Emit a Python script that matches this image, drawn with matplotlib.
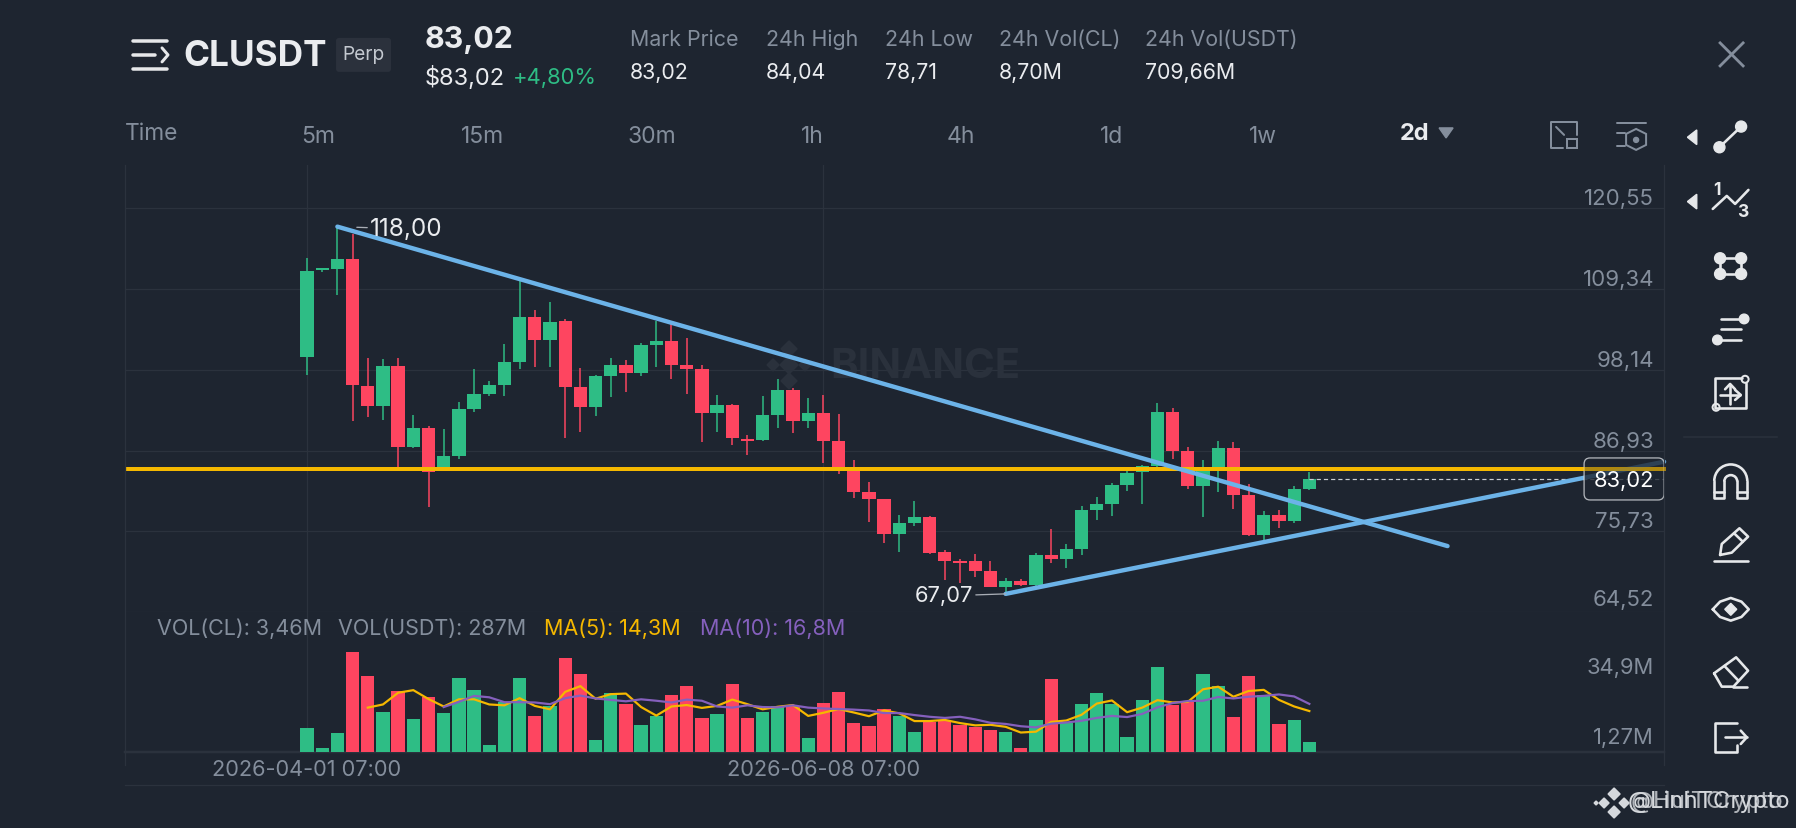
import matplotlib
matplotlib.use("Agg")
import matplotlib.pyplot as plt
from matplotlib.patches import Rectangle, Circle, FancyBboxPatch, Polygon, Arc

plt.rcParams['font.family'] = ['Inter', 'DejaVu Sans']

# Candles (index = one 2d candle)
opens = [99.88, 111.95, 112.09, 113.48, 95.95, 93.18, 98.73, 87.45, 90.08, 84.26,
         86.25, 92.67, 94.80, 96.05, 99.24, 105.52, 102.29, 104.88, 95.77, 93.04,
         97.25, 98.82, 97.67, 101.64, 102.15, 98.88, 98.32, 92.13, 93.24, 88.57,
         88.39, 91.85, 95.37, 91.11, 92.22, 88.29, 84.32, 81.17, 80.16, 75.39,
         76.92, 77.75, 72.81, 71.60, 71.60, 70.22, 68.09, 68.83, 68.32, 72.48,
         71.86, 73.26, 78.70, 79.53, 82.14, 83.91, 84.74, 92.33, 86.88, 82.05,
         84.28, 87.30, 80.74, 75.30, 77.95, 77.21, 81.67]
closes = [111.90, 112.18, 113.48, 96.00, 93.18, 98.73, 87.49, 90.08, 84.03, 86.20,
          92.67, 94.80, 96.00, 99.24, 105.52, 102.29, 104.83, 95.77, 93.04, 97.25,
          98.82, 97.67, 101.59, 102.15, 98.82, 98.32, 92.13, 93.24, 88.62, 88.34,
          91.85, 95.37, 91.11, 92.22, 88.29, 84.55, 81.17, 80.16, 75.39, 76.92,
          77.75, 72.76, 71.60, 71.33, 70.22, 68.09, 68.83, 68.32, 72.48, 71.93,
          73.26, 78.65, 79.53, 82.14, 83.81, 84.74, 92.33, 86.88, 82.09, 84.28,
          87.30, 80.74, 75.30, 77.95, 77.21, 81.63, 83.02]
highs = [113.62, 112.18, 118.00, 116.99, 99.84, 99.61, 99.75, 91.84, 90.36, 89.90,
         93.69, 98.22, 96.56, 101.73, 110.61, 106.45, 107.51, 105.25, 98.36, 97.43,
         99.84, 99.51, 101.83, 104.97, 104.46, 102.62, 98.79, 94.63, 93.38, 89.12,
         94.58, 96.89, 95.64, 94.30, 94.72, 91.99, 85.66, 82.61, 80.16, 77.98,
         80.02, 77.89, 73.22, 71.97, 72.62, 71.60, 69.34, 69.20, 72.76, 76.09,
         73.95, 79.26, 80.56, 82.42, 84.14, 84.98, 93.53, 92.84, 87.40, 85.58,
         88.33, 88.19, 82.33, 78.51, 78.70, 82.00, 84.04]
lows = [97.39, 111.72, 108.53, 91.10, 91.65, 91.19, 84.26, 87.31, 79.08, 84.20,
        85.74, 92.30, 94.57, 94.57, 98.31, 98.55, 98.59, 88.70, 89.57, 91.79,
        94.43, 95.08, 97.34, 98.50, 96.88, 94.77, 88.20, 89.49, 87.78, 86.35,
        88.25, 90.14, 89.40, 90.14, 85.29, 83.76, 80.43, 77.01, 74.10, 72.90,
        76.46, 72.67, 68.97, 68.60, 69.38, 68.04, 67.07, 68.23, 68.23, 71.37,
        70.70, 72.46, 77.26, 77.91, 81.35, 79.58, 84.65, 85.81, 81.63, 77.77,
        81.16, 78.79, 75.12, 74.28, 76.19, 76.84, 81.44]

# Volume in millions
volumes = [8.4, 1.28, 6.54, 34.9, 26.6, 13.9, 21.4, 11.4, 19.3, 13.7,
           26.0, 21.7, 2.45, 17.6, 26.0, 12.5, 15.9, 33.0, 27.4, 4.08,
           20.5, 16.9, 9.45, 12.7, 20.0, 22.9, 11.7, 13.4, 23.6, 12.0,
           14.0, 16.2, 16.1, 4.8, 17.2, 20.9, 10.15, 9.2, 15.05, 12.4,
           7.0, 10.4, 11.0, 9.6, 8.6, 7.7, 6.9, 1.4, 11.1, 25.6,
           10.0, 16.9, 20.7, 16.6, 5.25, 18.2, 29.8, 16.5, 17.7, 27.1,
           23.1, 12.1, 26.5, 19.8, 9.7, 11.2, 3.46]
ma5 = [15.5, 16.6, 20.7, 21.6, 18.5, 15.9, 18.4, 18.4, 16.6, 16.3,
       18.8, 16.1, 14.9, 21.0, 23.0, 18.6, 20.2, 20.4, 15.7, 12.7,
       15.9, 16.4, 15.4, 16.1, 18.3, 16.7, 14.9, 15.8, 16.4, 12.6,
       13.7, 15.0, 13.8, 12.5, 14.5, 13.5, 10.8, 10.8, 11.2, 10.1,
       9.3, 9.5, 8.8, 6.8, 7.1, 10.5, 11.0, 13.0, 16.9, 18.0,
       13.9, 15.5, 18.1, 17.3, 17.5, 21.9, 22.8, 19.3, 21.3, 21.7,
       18.2, 15.9, 14.3]
ma10 = [15.7, 17.5, 19.6, 19.1, 17.4, 17.4, 17.3, 16.7, 18.8, 19.7,
        18.7, 18.2, 17.7, 18.4, 17.9, 17.3, 18.3, 17.9, 15.9, 15.5,
        16.3, 15.7, 15.6, 16.3, 15.5, 15.2, 15.0, 14.8, 14.5, 13.6,
        13.6, 12.9, 12.3, 11.9, 12.3, 11.4, 10.2, 9.8, 9.0, 8.6,
        9.9, 10.3, 10.9, 11.9, 12.6, 12.2, 13.3, 15.6, 17.1, 17.8,
        17.9, 19.2, 18.7, 19.3, 19.6, 20.1, 19.4, 16.8]

price_ticks = [120.55, 109.34, 98.14, 86.93, 75.73, 64.52]
price_labels = ['120,55', '109,34', '98,14', '86,93', '75,73', '64,52']
tick_lifts = [9, 9, 9, 9, 10, 12]
date_idx = [0, 34]
date_labels = ['2026-04-01 07:00', '2026-06-08 07:00']
last_price = 83.02
support_level = 84.35
# drawn trendlines (candle index, price)
down_x, down_y = [2, 75.1], [118.0, 73.7]
up_x, up_y = [46, 89.36], [67.07, 85.4]

header_names = ['Mark Price', '24h High', '24h Low', '24h Vol(CL)', '24h Vol(USDT)']
header_values = ['83,02', '84,04', '78,71', '8,70M', '709,66M']
intervals = ['5m', '15m', '30m', '1h', '4h', '1d', '1w']

BG = '#1e2530'
GRID = '#2b323d'
GREEN = '#2ebd85'
RED = '#fe4560'
YELLOW = '#f5b800'
BLUE = '#6cb3e8'
PURPLE = '#8560bd'
GREY = '#848e9c'
WHITE = '#eaecef'
ICON = '#e6e8ea'

W, H = 1796, 828
# the extra 0.1 stops 8.28*100 being truncated to 827 rows
fig = plt.figure(figsize=((W + 0.1) / 100, (H + 0.1) / 100), dpi=100, facecolor=BG)


def px_axes(x0, y0, x1, y1):
    return fig.add_axes([x0 / W, 1 - y1 / H, (x1 - x0) / W, (y1 - y0) / H], facecolor='none')


def px(v):
    return v * 0.72


xlim = (-11.985, 89.36)
ax = px_axes(125, 165, 1664, 612.3)
ax_vol = px_axes(125, 612.3, 1664, 752)
ui = fig.add_axes([0, 0, 1, 1], facecolor='none', zorder=5)
ui.set_xlim(0, W)
ui.set_ylim(H, 0)
ui.axis('off')

for a in (ax, ax_vol):
    a.set_xlim(*xlim)
    a.set_xticks([])
    a.set_yticks([])
    for s in a.spines.values():
        s.set_visible(False)
    for i in date_idx:
        a.axvline(i, color=GRID, lw=px(1.3), zorder=1)

# price panel
ax.set_ylim(64.52, 126.56)
for v, lab, lift in zip(price_ticks, price_labels, tick_lifts):
    ax.axhline(v, color=GRID, lw=px(1.3), zorder=1)
    ax.annotate(lab, (1, v), xycoords=('axes fraction', 'data'), xytext=(-10, lift),
                textcoords='offset pixels', ha='right', va='center', color=GREY,
                fontsize=16, zorder=3, annotation_clip=False)

ax.text(830, 367, 'BINANCE', transform=ui.transData, color='#2a313c', fontsize=30,
        fontweight='bold', va='center', ha='left', zorder=1.5)
for cx, cy, r in [(789, 365, 9), (773, 365, 6), (805, 365, 6), (789, 349, 8), (789, 381, 8)]:
    ax.add_patch(Polygon([(cx - r, cy), (cx, cy - r), (cx + r, cy), (cx, cy + r)],
                         transform=ui.transData, color='#2a313c', zorder=1.5))

for i in range(len(opens)):
    col = GREEN if closes[i] >= opens[i] else RED
    ax.vlines(i, lows[i], highs[i], color=col, lw=px(1.5), zorder=2)
    bottom = min(opens[i], closes[i])
    ax.bar(i, max(abs(closes[i] - opens[i]), 0.25), 0.875, bottom=bottom, color=col, lw=0, zorder=2.2)

ax.axhline(support_level, color=YELLOW, lw=px(4), zorder=4)
ax.plot(down_x, down_y, color=BLUE, lw=px(4.4), zorder=4.2, solid_capstyle='round')
ax.plot(up_x, up_y, color=BLUE, lw=px(4.4), zorder=4.2, solid_capstyle='round', clip_on=False)
ax.plot([66, xlim[1]], [last_price, last_price], color='#c8ccd2', lw=px(1.2),
        dashes=(3.5, 2.5), zorder=3.5)

# high / low markers
ax.annotate('118,00', xy=(2, 118.0), xytext=(370, 229), textcoords=ui.transData,
            color=WHITE, fontsize=17.5, va='center', ha='left', zorder=6,
            arrowprops=dict(arrowstyle='-', color='#a8adb5', lw=px(1.3), shrinkA=0, shrinkB=14))
ax.annotate('67,07', xy=(46, 67.07), xytext=(973, 596), textcoords=ui.transData,
            color=WHITE, fontsize=15.8, va='center', ha='right', zorder=6,
            arrowprops=dict(arrowstyle='-', color='#a8adb5', lw=px(1.3), shrinkA=0, shrinkB=0))

# volume panel
ax_vol.set_ylim(0, 48.8)
ax_vol.axhline(0, color=GRID, lw=px(2.5), zorder=1, clip_on=False)
bar_cols = [GREEN if c >= o else RED for o, c in zip(opens, closes)]
ax_vol.bar(range(len(volumes)), volumes, 0.875, color=bar_cols, lw=0, zorder=2)
ax_vol.plot(range(4, 4 + len(ma5)), ma5, color=YELLOW, lw=px(2.2), zorder=3)
ax_vol.plot(range(9, 9 + len(ma10)), ma10, color=PURPLE, lw=px(2.2), zorder=3.2)

# frame lines
ui.plot([125, 125], [165, 765], color=GRID, lw=px(1.3))
ui.plot([1664, 1664], [165, 765], color=GRID, lw=px(1.3))
ui.plot([125, 1664], [785, 785], color=GRID, lw=px(1.3))
ui.plot([1684, 1777], [436.7, 436.7], color=GRID, lw=px(1.5))


def label(x, y, s, color=WHITE, size=15.4, ha='left', weight='normal', **kw):
    ui.text(x, y + 2, s, color=color, fontsize=size, ha=ha, va='center', fontweight=weight, **kw)


# volume legend + axis
label(157, 627, 'VOL(CL): 3,46M', GREY, 15.5)
label(338, 627, 'VOL(USDT): 287M', GREY, 15.5)
label(544, 627, 'MA(5): 14,3M', YELLOW, 15.5)
label(700, 627, 'MA(10): 16,8M', PURPLE, 15.5)
label(1654, 666, '34,9M', GREY, 15.8, ha='right')
label(1654, 736, '1,27M', GREY, 15.8, ha='right')

for i, lab in zip(date_idx, date_labels):
    x = 307 + 15.186 * i
    label(x, 768, lab, GREY, 15.7, ha='center')

# price tag
ui.add_patch(FancyBboxPatch((1588, 462), 72, 34, boxstyle='round,pad=4,rounding_size=6',
                            fc=BG, ec='#d5d8dc', lw=px(1.3), alpha=0.8))
ui.plot([1585, 1664], [469.3, 469.3], color=YELLOW, lw=px(4), alpha=0.6)
label(1654, 479, '83,02', '#ffffff', 15.8, ha='right')

# header
for y in (40.7, 69.3):
    ui.plot([133, 167], [y, y], color=ICON, lw=px(3.5), solid_capstyle='round')
ui.plot([133, 155], [55, 55], color=ICON, lw=px(3.5), solid_capstyle='round')
ui.plot([162, 168, 162], [48, 55, 62], color=ICON, lw=px(3), solid_capstyle='round')
label(183, 54.5, 'CLUSDT', WHITE, 25.3, weight='bold')
ui.add_patch(FancyBboxPatch((338, 40), 51, 30, boxstyle='round,pad=2,rounding_size=3', fc='#2b313c', ec='none'))
label(363.5, 53, 'Perp', '#c4c9d0', 13.8, ha='center')
label(425, 38, '83,02', WHITE, 21.8, weight='bold')
label(425, 76, '$83,02', WHITE, 17)
label(513, 76, '+4,80%', GREEN, 15.8)

for x, n, v in zip([630, 766, 885, 999, 1145], header_names, header_values):
    label(x, 38, n, GREY)
    label(x, 71, v, WHITE)

label(125, 132, 'Time', GREY, 16.4)
for x, s in zip([318, 482, 652, 812, 961, 1112, 1263], intervals):
    label(x, 135, s, GREY, 16.5, ha='center')
label(1414, 132, '2d', WHITE, 17, weight='bold', ha='center')
ui.add_patch(Polygon([(1439, 128), (1453, 128), (1446, 138)], color=GREY))

for y0, y1, x0, x1 in [(43, 66, 1720, 1743), (66, 43, 1720, 1743)]:
    ui.plot([x0, x1], [y0, y1], color=GREY, lw=px(2.8))

# top tool icons
g = dict(color=GREY, lw=px(2), solid_capstyle='round')
ui.plot([1563, 1551, 1551, 1577, 1577], [148, 148, 122, 122, 135], **g)
ui.add_patch(Rectangle((1567, 139), 10, 9, fc='none', ec=GREY, lw=px(2)))
ui.plot([1556, 1564], [127, 135], **g)
ui.plot([1617, 1646], [123, 123], **g)
ui.plot([1617, 1625], [133, 133], **g)
ui.plot([1617, 1625], [146, 146], **g)
ui.add_patch(Polygon([(1636, 129), (1646, 134), (1646, 145), (1636, 150), (1626, 145), (1626, 134)],
                     fc='none', ec=GREY, lw=px(2)))
ui.add_patch(Circle((1636, 140), 2.5, color=GREY))


def z7(x, y):
    return 1380 + x / 3, 100 + y / 3


def z8(x, y):
    return 1380 + x / 3, 420 + y / 3


def line(points, conv, lw=2.6):
    xs, ys = zip(*[conv(*p) for p in points])
    ui.plot(xs, ys, color=ICON, lw=px(lw), solid_capstyle='round', solid_joinstyle='round')


def dot(x, y, conv, r=5.5):
    ui.add_patch(Circle(conv(x, y), r, color=ICON))


# side toolbar
for y in (112, 305):
    ui.add_patch(Polygon([z7(950, y - 22), z7(950, y + 22), z7(922, y)], color=ICON))
line([(1018, 142), (1083, 80)], z7)
dot(1018, 142, z7)
dot(1083, 80, z7)
line([(998, 327), (1040, 288), (1065, 312), (1105, 270)], z7)
label(*z7(1010, 266), '1', ICON, 12.5, ha='center', weight='bold')
label(*z7(1088, 332), '3', ICON, 12.5, ha='center', weight='bold')
line([(1020, 475), (1083, 475), (1083, 522), (1020, 522), (1020, 475)], z7)
for x, y in [(1020, 475), (1083, 475), (1020, 522), (1083, 522)]:
    dot(x, y, z7)
line([(1022, 657), (1092, 657)], z7)
line([(1022, 688), (1082, 688)], z7)
line([(1012, 720), (1082, 720)], z7)
dot(1092, 657, z7, 4.8)
dot(1012, 720, z7, 4.8)
line([(1085, 835), (1005, 835), (1005, 925), (1098, 925), (1098, 850)], z7)
ui.add_patch(Circle(z7(1095, 838), 3.5, fc=BG, ec=ICON, lw=px(2)))
ui.add_patch(Circle(z7(1008, 922), 3.5, fc=BG, ec=ICON, lw=px(2)))
line([(1050, 855), (1050, 912)], z7)
line([(1020, 885), (1080, 885)], z7)
line([(1035, 868), (1050, 852), (1065, 868)], z7)
line([(1065, 870), (1082, 885), (1065, 900)], z7)

# magnet
ui.add_patch(Arc(z8(1052, 183), 33, 33, theta1=180, theta2=360, color=ICON, lw=px(2.6)))
line([(1002, 183), (1002, 235), (1033, 235), (1033, 183)], z8)
line([(1071, 183), (1071, 235), (1102, 235), (1102, 183)], z8)
line([(1002, 215), (1033, 215)], z8)
line([(1071, 215), (1102, 215)], z8)
ui.add_patch(Arc(z8(1052, 185), 13, 13, theta1=180, theta2=360, color=ICON, lw=px(2.6)))
# pencil
line([(1020, 405), (1025, 372), (1078, 325), (1104, 350), (1055, 398), (1020, 405)], z8)
line([(1062, 340), (1088, 365)], z8)
line([(1002, 422), (1103, 422)], z8)
# eye
line([(998, 568), (1020, 545), (1052, 534), (1084, 545), (1106, 568), (1084, 591), (1052, 602), (1020, 591), (998, 568)], z8)
ui.add_patch(Polygon([z8(1034, 568), z8(1052, 550), z8(1070, 568), z8(1052, 586)], color=ICON))
# eraser
line([(1002, 760), (1068, 712), (1104, 752), (1060, 800), (1025, 800), (1002, 760)], z8)
line([(1033, 738), (1075, 782)], z8)
line([(1060, 800), (1100, 800)], z8)
# exit
line([(1070, 908), (1004, 908), (1004, 997), (1070, 997), (1070, 975)], z8)
line([(1036, 952), (1100, 952)], z8)
line([(1082, 932), (1100, 952), (1082, 972)], z8)

# bottom watermark, two texts on top of each other as in the picture
label(1628, 800, '@LinhTCrypto', '#d5d8dc', 17.2)
label(1631, 800, '@HuiTCrypto', '#d5d8dc', 17.2, alpha=0.8)
for cx, cy, r in [(1614, 794, 6), (1604, 803, 5), (1624, 803, 5), (1614, 812, 6), (1596, 803, 2)]:
    ui.add_patch(Polygon([(cx - r, cy), (cx, cy - r), (cx + r, cy), (cx, cy + r)], color='#d5d8dc'))

fig.savefig('out.png', dpi=100, facecolor=BG)
